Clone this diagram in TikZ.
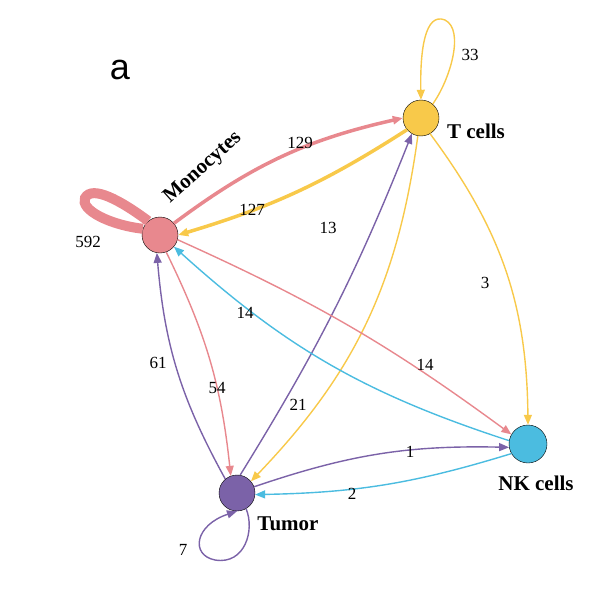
\documentclass[tikz,border=0pt]{standalone}
\usepackage{fontspec}
\setmainfont{Liberation Serif}
\newfontfamily\sansf{Liberation Sans}
\usetikzlibrary{arrows.meta}
\definecolor{cpink}{HTML}{E8888E}
\definecolor{cyel}{HTML}{F8C94A}
\definecolor{cpur}{HTML}{7B62A8}
\definecolor{cblue}{HTML}{4BBCE0}
\begin{document}
\begin{tikzpicture}[x=1pt,y=-1pt,
  nd/.style={circle,draw=black,thin,minimum size=36pt,inner sep=0pt},
  e/.style={-{Triangle[length=10pt,width=8pt]},line width=1.4pt},
  lab/.style={font=\fontsize{17}{17}\selectfont,text=black},
  nm/.style={font=\fontsize{21}{21}\selectfont\bfseries,text=black}]
\useasboundingbox (0,0) rectangle (600,594);
\node[font=\sansf\fontsize{36}{36}\selectfont] (a) at (120,70) {a};
\node[nd,fill=cpink] (M) at (160,235) {};
\node[nd,fill=cyel] (T) at (421,118) {};
\node[nd,fill=cblue,minimum size=38pt] (N) at (528,444) {};
\node[nd,fill=cpur] (U) at (237,493) {};
\node[nm,rotate=42] (Ml) at (203,168) {Monocytes};
\node[nm] (Tl) at (476,131) {T cells};
\node[nm] (Nl) at (536,483) {NK cells};
\node[nm] (Ul) at (288,524) {Tumor};
% self loops
\draw[cpink,line width=10pt] (M.160) .. controls (110,225) and (80,210) .. (85,198) .. controls (92,185) and (120,200) .. (M.130);
\node[lab] (l592) at (88,242) {592};
\draw[e,cyel] (T.50) .. controls (450,80) and (465,30) .. (445,20) .. controls (425,12) and (420,50) .. (T.north);
\node[lab] (l33) at (470,55) {33};
\draw[e,cpur] (U.-60) .. controls (255,530) and (245,565) .. (215,560) .. controls (190,555) and (195,525) .. (U.south);
\node[lab] (l7) at (183,550) {7};
% edges
\draw[e,cpink,line width=3.5pt] (M.40) to[bend left=12] (T.west);
\node[lab] (l129) at (300,143) {129};
\draw[e,cyel,line width=3.5pt] (T.220) to[bend left=8] (M.east);
\node[lab] (l127) at (252,210) {127};
\draw[e,cyel] (T.-60) to[bend left=18] (N.north);
\node[lab] (l3) at (485,283) {3};
\draw[e,cyel] (T.-100) to[bend left=18] (U.40);
\node[lab] (l21) at (298,405) {21};
\draw[e,cpur] (U.80) to[bend left=-5] (T.240);
\node[lab] (l13) at (328,228) {13};
\draw[e,cpink] (M.-15) to[bend left=6] (N.150);
\node[lab] (l14a) at (425,365) {14};
\draw[e,cblue] (N.170) to[bend left=12] (M.-40);
\node[lab] (l14b) at (245,313) {14};
\draw[e,cpink] (M.-70) to[bend left=10] (U.110);
\node[lab] (l54) at (217,388) {54};
\draw[e,cpur] (U.130) to[bend left=12] (M.-100);
\node[lab] (l61) at (158,363) {61};
\draw[e,cpur] (U.20) to[bend left=10] (N.-170);
\node[lab] (l1) at (410,452) {1};
\draw[e,cblue] (N.-150) to[bend left=8] (U.-5);
\node[lab] (l2) at (352,494) {2};
\end{tikzpicture}
\end{document}
